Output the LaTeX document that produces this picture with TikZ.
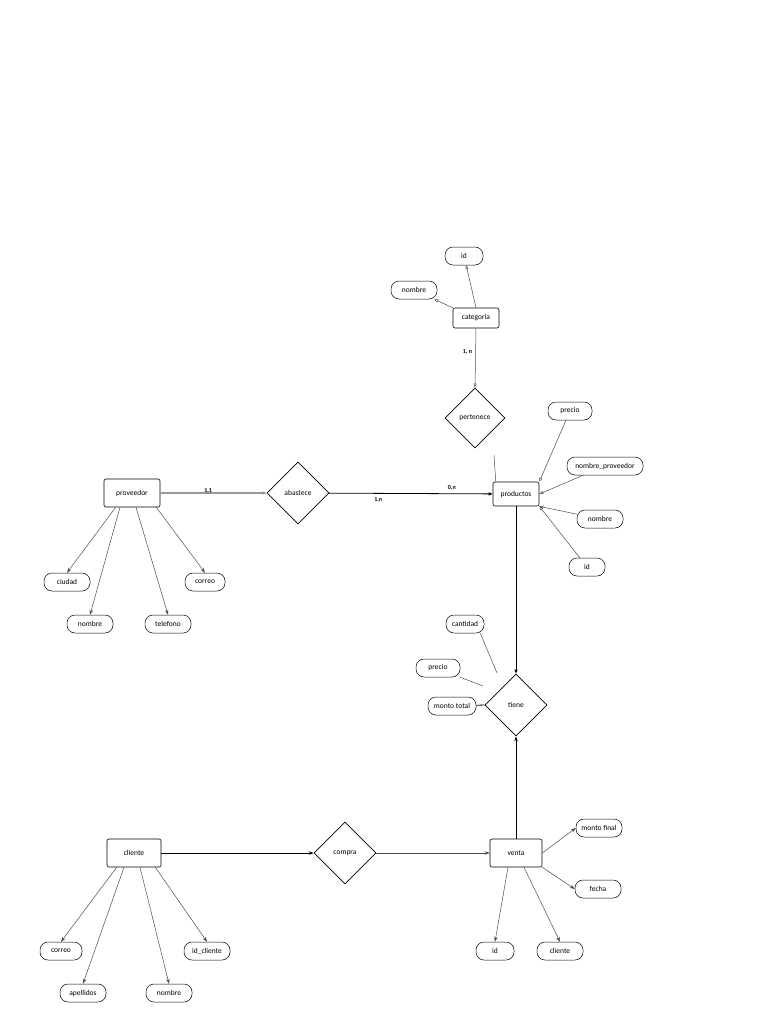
\documentclass[tikz,border=0pt]{standalone}
\usepackage{fontspec}
\setmainfont{Carlito}
\usetikzlibrary{shapes.geometric,arrows.meta}
\begin{document}
\begin{tikzpicture}[x=1pt,y=-1pt,font=\fontsize{7.5}{9}\selectfont,
 ent/.style={draw,rounded corners=2pt,minimum height=24pt,minimum width=46pt,inner sep=1pt,line width=0.6pt},
 att/.style={draw,rounded corners=8pt,minimum height=18pt,inner sep=2pt,line width=0.5pt},
 rel/.style={draw,diamond,minimum width=62pt,minimum height=62pt,inner sep=0pt,line width=0.6pt},
 ln/.style={draw=black!70,line width=0.5pt},
 ot/.style={ln,-{Triangle[open,length=4pt,width=3pt]}},
 ft/.style={ln,-{Stealth[length=5pt,width=3.5pt]}},
 lbl/.style={font=\fontsize{6}{7}\selectfont\bfseries}]
\useasboundingbox (0,0) rectangle (768,1024);
\fill[white] (0,0) rectangle (768,1024);
% categoria
\node[att,minimum width=38pt] (cid) at (464,256) {id};
\node[att,minimum width=46pt] (cnom) at (414,290) {nombre};
\node[ent,minimum height=20pt] (cat) at (476,318) {categoria};
\node[rel,minimum width=60pt,minimum height=60pt] (per) at (475,418) {pertenece};
\draw[ot] (cat.north) -- (cid);
\draw[ot] (cat.north west) -- (cnom);
\draw[ot] (cat.south) -- node[lbl,left,pos=0.4]{1, n} (per.north);
% productos
\node[ent] (prod) at (516,494) {productos};
\node[att,minimum width=44pt] (pprec) at (570,411) {precio};
\node[att,minimum width=76pt] (pnp) at (605,466) {nombre\_proveedor};
\node[att,minimum width=46pt] (pnom) at (600,519) {nombre};
\node[att,minimum width=36pt] (pid) at (587,567) {id};
\coordinate (pk) at (494,455);
\draw[ln] (prod.north west) ++(3,0) coordinate (pa) -- (pk);
\draw[ot] (pprec) -- (prod.north east);
\draw[ot] (pnp) -- (prod.east);
\draw[ot] (pnom) -- (prod.south east);
\draw[ot] (pid) -- (prod.south east);
% proveedor
\node[ent,minimum width=56pt,minimum height=28pt] (prov) at (132,493) {proveedor};
\node[rel] (aba) at (298,493) {abastece};
\draw[ot,line width=1.2pt,draw=black!40] (prov) -- node[lbl,above,pos=0.45,yshift=-4pt]{1,1} (aba);
\draw[ot,line width=0.8pt,draw=black] (aba) -- node[lbl,below,pos=0.3]{1,n} node[lbl,above,pos=0.75]{0,n} (prod);
\node[att,minimum width=46pt] (ciu) at (67,582) {ciudad};
\node[att,minimum width=46pt] (vnom) at (90,624) {nombre};
\node[att,minimum width=46pt] (tel) at (168,624) {telefono};
\node[att,minimum width=40pt] (cor) at (205,582) {correo};
\draw[ft] (prov.south west) ++(12,0) -- (ciu.north);
\draw[ft] (prov.south) ++(-12,0) -- (vnom.north);
\draw[ft] (prov.south) ++(4,0) -- (tel.north);
\draw[ft] (prov.south east) ++(-4,0) -- (cor.north);
% tiene
\node[rel] (tie) at (516,705) {tiene};
\draw[ot,line width=0.8pt,draw=black] (prod.south) -- (tie.north);
\node[att,minimum width=38pt] (can) at (465,624) {cantidad};
\node[att,minimum width=44pt] (tpre) at (438,668) {precio};
\node[att,minimum width=48pt] (mt) at (452,706) {monto total};
\coordinate (ck) at (497,673);
\coordinate (tk) at (483,686);
\draw[ln] (can.south east) ++(-4,0) -- (ck);
\draw[ln] (tpre.south east) -- (tk);
\draw[line width=0.8pt] (mt) -- (tie.west);
% cliente / venta
\node[ent,minimum width=54pt,minimum height=28pt] (cli) at (134,853) {cliente};
\node[rel] (com) at (345,853) {compra};
\node[ent,minimum width=52pt,minimum height=28pt] (ven) at (516,853) {venta};
\draw[ft,line width=0.9pt,draw=black] (cli) -- (com);
\draw[ft] (com) -- (ven);
\draw[ft,line width=0.8pt,draw=black] (ven) -- (tie.south);
\node[att,minimum width=46pt] (mf) at (599,828) {monto final};
\node[att,minimum width=46pt] (fe) at (598,889) {fecha};
\node[att,minimum width=38pt] (vid) at (495,951) {id};
\node[att,minimum width=46pt] (vcl) at (560,951) {cliente};
\draw[ft] (ven.east) -- (mf.west);
\draw[ft] (ven.south east) -- (fe.west);
\draw[ft] (ven.south) ++(-8,0) -- (vid.north);
\draw[ft] (ven.south) ++(8,0) -- (vcl.north);
\node[att,minimum width=42pt] (kco) at (61,951) {correo};
\node[att,minimum width=46pt] (kap) at (83,993) {apellidos};
\node[att,minimum width=46pt] (kno) at (169,993) {nombre};
\node[att,minimum width=46pt] (kid) at (207,951) {id\_cliente};
\draw[ft] (cli.south west) ++(10,0) -- (kco.north);
\draw[ft] (cli.south) ++(-10,0) -- (kap.north);
\draw[ft] (cli.south) ++(6,0) -- (kno.north);
\draw[ft] (cli.south east) ++(-6,0) -- (kid.north);
\end{tikzpicture}
\end{document}
